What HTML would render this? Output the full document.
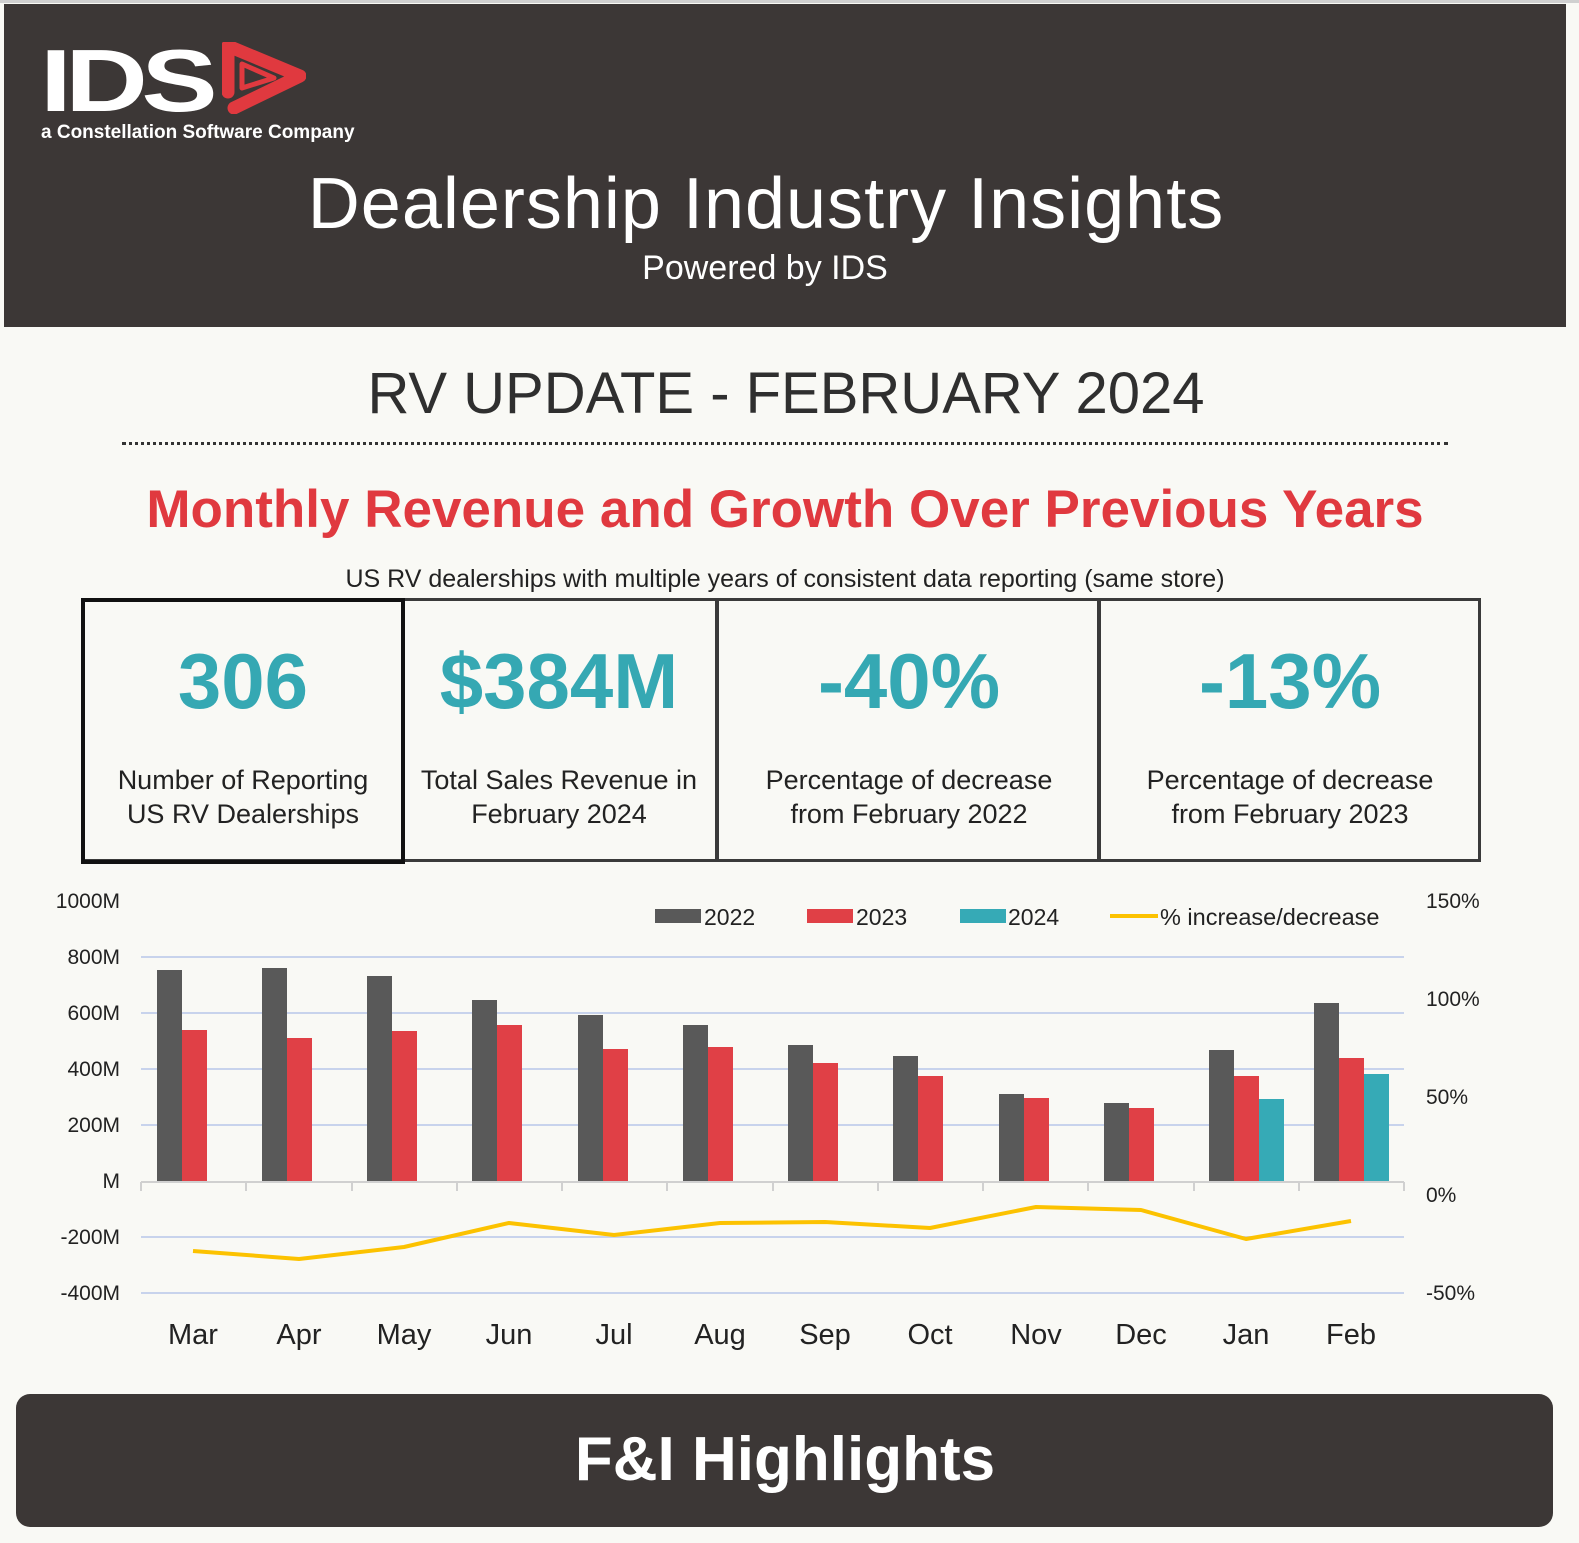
<!DOCTYPE html>
<html><head><meta charset="utf-8">
<style>
body{margin:0;width:1579px;height:1543px;background:#f9f9f5;font-family:"Liberation Sans",sans-serif;overflow:hidden;position:relative}
.abs{position:absolute}
</style></head><body>
<div class="abs" style="left:0;top:0;width:1579px;height:3px;background:#d0d0d0"></div>
<div class="abs" style="left:4px;top:4px;width:1562px;height:323px;background:#3c3736"></div>
<div class="abs" style="left:40px;top:36px;color:#fff;font-weight:900;font-size:88px;letter-spacing:-5px;line-height:90px;transform:scaleX(1.3);transform-origin:left">IDS</div>
<svg class="abs" style="left:222px;top:42px" width="84" height="72" viewBox="0 0 84 72">
<path d="M6 4 L78 34 L12 66" fill="none" stroke="#e0393f" stroke-width="13" stroke-linejoin="round" stroke-linecap="round"/>
<path d="M6 4 L6 50" fill="none" stroke="#e0393f" stroke-width="13" stroke-linecap="round"/>
<path d="M20 22 L52 36 L20 46 Z" fill="none" stroke="#e0393f" stroke-width="5" stroke-linejoin="round"/>
</svg>
<div class="abs" style="left:41px;top:122px;color:#fff;font-weight:bold;font-size:19px">a Constellation Software Company</div>
<div class="abs" style="left:0;width:1532px;top:162px;text-align:center;color:#fff;font-size:72px;line-height:84px;letter-spacing:1px">Dealership Industry Insights</div>
<div class="abs" style="left:0;width:1530px;top:248px;text-align:center;color:#fff;font-size:34px;line-height:40px">Powered by IDS</div>
<div class="abs" style="left:0;width:1572px;top:358px;text-align:center;color:#2f2f2f;font-size:58px;line-height:72px">RV UPDATE - FEBRUARY 2024</div>
<div class="abs" style="left:122px;top:442px;width:1326px;border-top:3px dotted #333"></div>
<div class="abs" style="left:0;width:1570px;top:478px;text-align:center;color:#e0393f;font-weight:bold;font-size:53px;line-height:64px">Monthly Revenue and Growth Over Previous Years</div>
<div class="abs" style="left:0;width:1570px;top:564px;text-align:center;color:#222;font-size:25px;line-height:30px">US RV dealerships with multiple years of consistent data reporting (same store)</div>
<div class="abs" style="left:81px;top:598px;width:1394px;height:258px;border:3px solid #3a3a3a"></div>
<div class="abs" style="left:81px;top:598px;width:316px;height:258px;border:4px solid #111"></div>
<div class="abs" style="left:715px;top:598px;width:4px;height:264px;background:#3a3a3a"></div>
<div class="abs" style="left:1097px;top:598px;width:4px;height:264px;background:#3a3a3a"></div>
<div class="abs" style="left:84px;width:318px;top:636px;text-align:center;color:#35a8b3;font-weight:bold;font-size:78px;line-height:90px">306</div>
<div class="abs" style="left:401px;width:316px;top:636px;text-align:center;color:#35a8b3;font-weight:bold;font-size:78px;line-height:90px">$384M</div>
<div class="abs" style="left:719px;width:380px;top:636px;text-align:center;color:#35a8b3;font-weight:bold;font-size:78px;line-height:90px">-40%</div>
<div class="abs" style="left:1101px;width:378px;top:636px;text-align:center;color:#35a8b3;font-weight:bold;font-size:78px;line-height:90px">-13%</div>
<div class="abs" style="left:84px;width:318px;top:763px;text-align:center;color:#222;font-size:27px;line-height:34px">Number of Reporting<br>US RV Dealerships</div>
<div class="abs" style="left:401px;width:316px;top:763px;text-align:center;color:#222;font-size:27px;line-height:34px">Total Sales Revenue in<br>February 2024</div>
<div class="abs" style="left:719px;width:380px;top:763px;text-align:center;color:#222;font-size:27px;line-height:34px">Percentage of decrease<br>from February 2022</div>
<div class="abs" style="left:1101px;width:378px;top:763px;text-align:center;color:#222;font-size:27px;line-height:34px">Percentage of decrease<br>from February 2023</div>

<svg class="abs" style="left:0;top:0" width="1579" height="1543" font-family="Liberation Sans, sans-serif">
<g stroke="#c8d3ec" stroke-width="2">
<line x1="141" y1="957" x2="1404" y2="957"/><line x1="141" y1="1013" x2="1404" y2="1013"/>
<line x1="141" y1="1069" x2="1404" y2="1069"/><line x1="141" y1="1125" x2="1404" y2="1125"/>
<line x1="141" y1="1237" x2="1404" y2="1237"/><line x1="141" y1="1293" x2="1404" y2="1293"/>
</g>
<g font-size="21" fill="#222" text-anchor="end">
<text x="120" y="908">1000M</text><text x="120" y="964">800M</text><text x="120" y="1020">600M</text>
<text x="120" y="1076">400M</text><text x="120" y="1132">200M</text><text x="120" y="1188">M</text>
<text x="120" y="1244">-200M</text><text x="120" y="1300">-400M</text>
</g>
<g font-size="21" fill="#222">
<text x="1426" y="908">150%</text><text x="1426" y="1006">100%</text><text x="1426" y="1104">50%</text>
<text x="1426" y="1202">0%</text><text x="1426" y="1300">-50%</text>
</g>
<g>
<rect x="157" y="970" width="25" height="211" fill="#595959"/><rect x="182" y="1030" width="25" height="151" fill="#e04046"/>
<rect x="262" y="968" width="25" height="213" fill="#595959"/><rect x="287" y="1038" width="25" height="143" fill="#e04046"/>
<rect x="367" y="976" width="25" height="205" fill="#595959"/><rect x="392" y="1031" width="25" height="150" fill="#e04046"/>
<rect x="472" y="1000" width="25" height="181" fill="#595959"/><rect x="497" y="1025" width="25" height="156" fill="#e04046"/>
<rect x="578" y="1015" width="25" height="166" fill="#595959"/><rect x="603" y="1049" width="25" height="132" fill="#e04046"/>
<rect x="683" y="1025" width="25" height="156" fill="#595959"/><rect x="708" y="1047" width="25" height="134" fill="#e04046"/>
<rect x="788" y="1045" width="25" height="136" fill="#595959"/><rect x="813" y="1063" width="25" height="118" fill="#e04046"/>
<rect x="893" y="1056" width="25" height="125" fill="#595959"/><rect x="918" y="1076" width="25" height="105" fill="#e04046"/>
<rect x="999" y="1094" width="25" height="87" fill="#595959"/><rect x="1024" y="1098" width="25" height="83" fill="#e04046"/>
<rect x="1104" y="1103" width="25" height="78" fill="#595959"/><rect x="1129" y="1108" width="25" height="73" fill="#e04046"/>
<rect x="1209" y="1050" width="25" height="131" fill="#595959"/><rect x="1234" y="1076" width="25" height="105" fill="#e04046"/><rect x="1259" y="1099" width="25" height="82" fill="#36aab6"/>
<rect x="1314" y="1003" width="25" height="178" fill="#595959"/><rect x="1339" y="1058" width="25" height="123" fill="#e04046"/><rect x="1364" y="1074" width="25" height="107" fill="#36aab6"/>
</g>
<line x1="141" y1="1182" x2="1404" y2="1182" stroke="#d0d0d0" stroke-width="2"/>
<g stroke="#d0d0d0" stroke-width="2">
<line x1="141" y1="1182" x2="141" y2="1191"/><line x1="246" y1="1182" x2="246" y2="1191"/><line x1="352" y1="1182" x2="352" y2="1191"/>
<line x1="457" y1="1182" x2="457" y2="1191"/><line x1="562" y1="1182" x2="562" y2="1191"/><line x1="667" y1="1182" x2="667" y2="1191"/>
<line x1="773" y1="1182" x2="773" y2="1191"/><line x1="878" y1="1182" x2="878" y2="1191"/><line x1="983" y1="1182" x2="983" y2="1191"/>
<line x1="1088" y1="1182" x2="1088" y2="1191"/><line x1="1194" y1="1182" x2="1194" y2="1191"/><line x1="1299" y1="1182" x2="1299" y2="1191"/>
<line x1="1404" y1="1182" x2="1404" y2="1191"/>
</g>
<polyline fill="none" stroke="#fcc200" stroke-width="4" stroke-linejoin="round" points="193,1251 299,1259 404,1247 509,1223 614,1235 720,1223 825,1222 930,1228 1036,1207 1141,1210 1246,1239 1351,1221"/>
<g font-size="29" fill="#222" text-anchor="middle">
<text x="193" y="1344">Mar</text><text x="299" y="1344">Apr</text><text x="404" y="1344">May</text><text x="509" y="1344">Jun</text>
<text x="614" y="1344">Jul</text><text x="720" y="1344">Aug</text><text x="825" y="1344">Sep</text><text x="930" y="1344">Oct</text>
<text x="1036" y="1344">Nov</text><text x="1141" y="1344">Dec</text><text x="1246" y="1344">Jan</text><text x="1351" y="1344">Feb</text>
</g>
<rect x="655" y="909" width="46" height="14" fill="#595959"/><text x="704" y="925" font-size="23" fill="#222">2022</text>
<rect x="807" y="909" width="46" height="14" fill="#e04046"/><text x="856" y="925" font-size="23" fill="#222">2023</text>
<rect x="960" y="909" width="46" height="14" fill="#36aab6"/><text x="1008" y="925" font-size="23" fill="#222">2024</text>
<line x1="1110" y1="916" x2="1158" y2="916" stroke="#fcc200" stroke-width="4"/><text x="1160" y="925" font-size="23.5" fill="#222">% increase/decrease</text>
</svg>
<div class="abs" style="left:16px;top:1394px;width:1537px;height:133px;background:#3c3736;border-radius:14px"></div>
<div class="abs" style="left:0;width:1570px;top:1424px;text-align:center;color:#fff;font-weight:bold;font-size:62px;line-height:72px">F&amp;I Highlights</div>
</body></html>
